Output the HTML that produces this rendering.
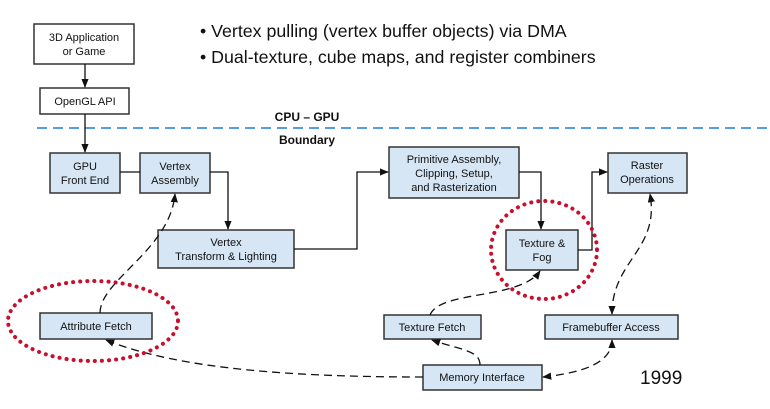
<!DOCTYPE html>
<html><head><meta charset="utf-8"><style>
body{margin:0;background:#fff}
svg text{font-family:"Liberation Sans",sans-serif;fill:#111}
</style></head><body>
<svg width="770" height="404" viewBox="0 0 770 404" xmlns="http://www.w3.org/2000/svg">
<defs>
<marker id="a" viewBox="0 0 10 10" refX="9" refY="5" markerWidth="7" markerHeight="7" orient="auto-start-reverse"><path d="M0,1 L10,5 L0,9 z" fill="#111"/></marker>
</defs>
<g font-size="11" text-anchor="middle">
<rect x="34" y="24" width="100" height="40" fill="#fff" stroke="#333" stroke-width="1.5"/>
<text x="84" y="41">3D Application</text><text x="84" y="55">or Game</text>
<rect x="40" y="88" width="89" height="26" fill="#fff" stroke="#333" stroke-width="1.5"/>
<text x="85" y="105">OpenGL API</text>
<g fill="#d6e6f5" stroke="#333" stroke-width="1.5">
<rect x="50" y="153" width="70" height="40"/>
<rect x="140" y="153" width="70" height="40"/>
<rect x="158" y="230" width="136" height="38"/>
<rect x="389" y="147" width="130" height="51"/>
<rect x="608" y="153" width="79" height="40"/>
<rect x="506" y="230" width="72" height="40"/>
<rect x="384" y="315" width="97" height="24"/>
<rect x="545" y="315" width="133" height="24"/>
<rect x="423" y="365" width="119" height="25"/>
<rect x="40" y="313" width="112" height="26"/>
</g>
<text x="85" y="170">GPU</text><text x="85" y="184">Front End</text>
<text x="175" y="170">Vertex</text><text x="175" y="184">Assembly</text>
<text x="226" y="246">Vertex</text><text x="226" y="260">Transform &amp; Lighting</text>
<text x="454" y="163">Primitive Assembly,</text><text x="454" y="177">Clipping, Setup,</text><text x="454" y="191">and Rasterization</text>
<text x="647" y="169">Raster</text><text x="647" y="183">Operations</text>
<text x="542" y="247">Texture &amp;</text><text x="542" y="261">Fog</text>
<text x="432" y="331">Texture Fetch</text>
<text x="611" y="331">Framebuffer Access</text>
<text x="482" y="381">Memory Interface</text>
<text x="96" y="330">Attribute Fetch</text>
</g>
<text x="200" y="37" font-size="17.8">• Vertex pulling (vertex buffer objects) via DMA</text>
<text x="200" y="63" font-size="17.8">• Dual-texture, cube maps, and register combiners</text>
<text x="307" y="121" font-size="12" font-weight="bold" text-anchor="middle">CPU – GPU</text>
<text x="307" y="144" font-size="12" font-weight="bold" text-anchor="middle">Boundary</text>
<text x="640" y="384" font-size="19">1999</text>
<line x1="37" y1="128" x2="770" y2="128" stroke="#1a7fd4" stroke-width="1.5" stroke-dasharray="10,6"/>
<g stroke="#111" stroke-width="1.3" fill="none">
<line x1="85" y1="64" x2="85" y2="87" marker-end="url(#a)"/>
<line x1="85" y1="114" x2="85" y2="152" marker-end="url(#a)"/>
<line x1="120" y1="172" x2="140" y2="172"/>
<polyline points="210,172 228,172 228,229" marker-end="url(#a)"/>
<polyline points="294,249 357,249 357,172 388,172" marker-end="url(#a)"/>
<polyline points="519,172 541,172 541,229" marker-end="url(#a)"/>
<polyline points="578,250 592,250 592,172 607,172" marker-end="url(#a)"/>
<g stroke-dasharray="8,5">
<path d="M100,313 C100,280 170,250 175,194" marker-end="url(#a)"/>
<path d="M423,377 C300,377 180,370 106,340" marker-end="url(#a)"/>
<path d="M480,365 C480,350 460,350 432,340" marker-end="url(#a)"/>
<path d="M430,315 C440,290 520,300 540,271" marker-end="url(#a)"/>
<path d="M543,377 C590,372 612,360 612,340" marker-start="url(#a)" marker-end="url(#a)"/>
<path d="M612,314 C612,260 660,250 650,194" marker-start="url(#a)" marker-end="url(#a)"/>
</g>
</g>
<g fill="none" stroke="#c8102e" stroke-width="4" stroke-dasharray="0.1,7" stroke-linecap="round">
<ellipse cx="544" cy="250" rx="53" ry="49"/>
<ellipse cx="93" cy="321" rx="85" ry="40"/>
</g>
</svg>
</body></html>
